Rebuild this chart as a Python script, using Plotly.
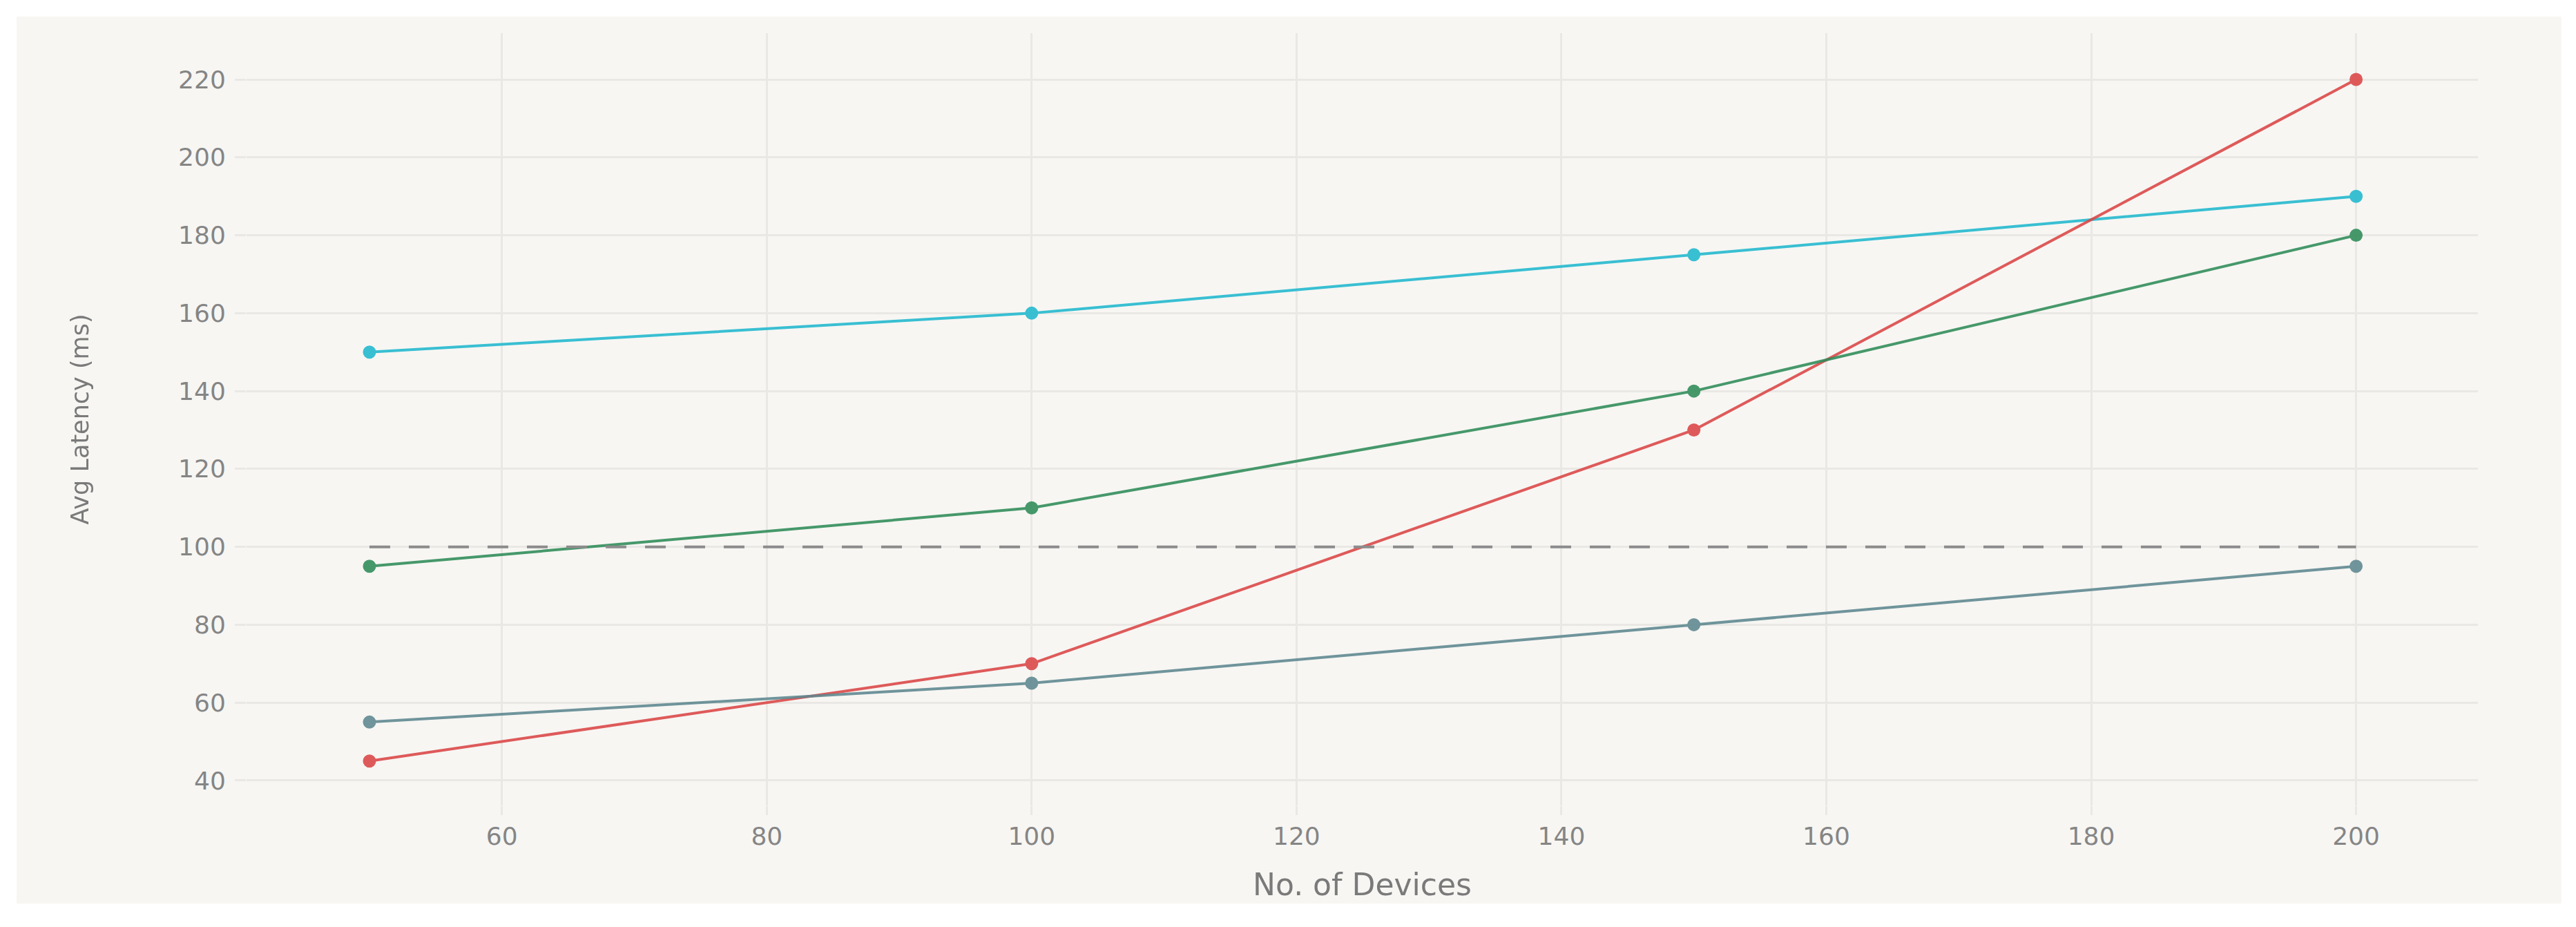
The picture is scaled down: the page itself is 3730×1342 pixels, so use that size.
import plotly.graph_objects as go

# ---- data ----
devices = [50, 100, 150, 200]
series_names = ["Series A", "Series B", "Series C", "Series D"]
latency_a = [150, 160, 175, 190]   # cyan
latency_b = [45, 70, 130, 220]     # red
latency_c = [95, 110, 140, 180]    # green
latency_d = [55, 65, 80, 95]       # slate
threshold_value = 100
x_tick_vals = [60, 80, 100, 120, 140, 160, 180, 200]
y_tick_vals = [40, 60, 80, 100, 120, 140, 160, 180, 200, 220]
x_title = "No. of Devices"
y_title = "Avg Latency (ms)"

colors = ["#1FB8CD", "#DB4545", "#2E8B57", "#5D878F"]
panel = "#F7F6F3"
grid = "#E9E8E5"
font_family = "DejaVu Sans"

fig = go.Figure()
for name, ys, c in zip(series_names, [latency_a, latency_b, latency_c, latency_d], colors):
    fig.add_trace(go.Scatter(
        x=devices, y=ys, mode="lines+markers", name=name,
        line=dict(color=c, width=4),
        marker=dict(color=c, size=19),
        opacity=0.88,
    ))

fig.add_trace(go.Scatter(
    x=[devices[0], devices[-1]], y=[threshold_value, threshold_value],
    mode="lines", name="Threshold",
    line=dict(color="#8C8C8C", width=4, dash="30px,27px"),
))

L, R, T, B = 357, 3588, 48, 1166
W, H = 3730, 1342

def px2paper_x(px):
    return (px - L) / (R - L)

def px2paper_y(py):
    return (B - py) / (B - T)

fig.add_shape(
    type="rect", xref="paper", yref="paper", layer="below",
    x0=px2paper_x(24), x1=px2paper_x(3709),
    y0=px2paper_y(1308), y1=px2paper_y(24),
    fillcolor=panel, line=dict(width=0),
)

fig.update_layout(
    width=W, height=H,
    margin=dict(l=L, r=W - R, t=T, b=H - B, pad=0),
    paper_bgcolor="white",
    plot_bgcolor=panel,
    showlegend=False,
    font=dict(family=font_family, color="#858585", size=36),
    xaxis=dict(
        range=[40.72, 209.2],
        tickvals=x_tick_vals,
        showgrid=True, gridcolor=grid, gridwidth=3,
        zeroline=False, showline=False,
        ticks="outside", ticklen=13, tickwidth=3, tickcolor=grid,
        tickfont=dict(size=36, color="#858585"),
        title=dict(text=x_title, font=dict(size=44, color="#7a7a7a"), standoff=34),
        automargin=False,
    ),
    yaxis=dict(
        range=[33.6, 231.9],
        tickvals=y_tick_vals,
        showgrid=True, gridcolor=grid, gridwidth=3,
        zeroline=False, showline=False,
        ticks="outside", ticklen=16, tickwidth=3, tickcolor=grid,
        ticklabelstandoff=6,
        tickfont=dict(size=36, color="#858585"),
        title=dict(text=y_title, font=dict(size=35, color="#7a7a7a"), standoff=118),
        automargin=False,
    ),
)

fig.write_html("out.html")
